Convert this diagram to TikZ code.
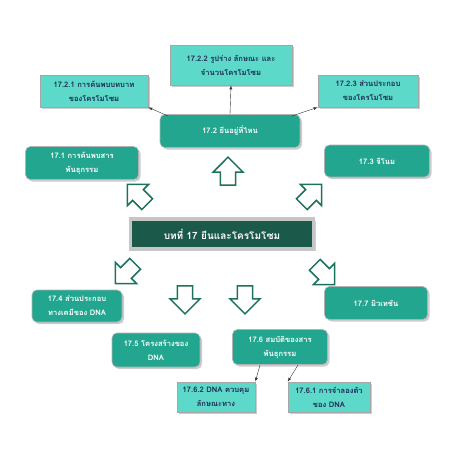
\documentclass[tikz,border=0pt]{standalone}
\usepackage{fontspec}
\newfontfamily\thaifont[Script=Thai]{Loma}
\usetikzlibrary{shapes.arrows,shadows}
\definecolor{lightbox}{HTML}{5CD9C8}
\definecolor{tealbox}{HTML}{22A68F}
\definecolor{mainbox}{HTML}{1B5A4B}
\definecolor{textdark}{HTML}{1E2A55}
\tikzset{
  subbox/.style={rectangle, fill=lightbox, draw=gray!70, line width=0.6pt,
    drop shadow={shadow xshift=2pt, shadow yshift=-2pt, fill=gray!80},
    text=textdark, align=center, font=\thaifont\bfseries\fontsize{7.6}{14}\selectfont,
    inner sep=1pt},
  secbox/.style={rectangle, rounded corners=5pt, fill=tealbox, draw=gray!60, line width=0.6pt,
    drop shadow={shadow xshift=2pt, shadow yshift=-2pt, fill=gray!80},
    text=white, align=center, font=\thaifont\bfseries\fontsize{7.6}{14}\selectfont,
    inner sep=1pt},
  blockarrow/.style={single arrow, draw=mainbox!70!tealbox, fill=white, line width=1.5pt,
    minimum height=28pt, minimum width=30pt, single arrow head extend=7pt, inner sep=6.5pt},
  link/.style={-latex, thin, black!80}
}
\begin{document}
\begin{tikzpicture}[x=1pt,y=-1pt]
\useasboundingbox (0,0) rectangle (452,452);

% chapter box
\node[rectangle, fill=mainbox, draw=gray!45, line width=3.5pt, minimum width=183, minimum height=30,
  text=white, font=\thaifont\bfseries\fontsize{10}{12}\selectfont,
  drop shadow={shadow xshift=2pt, shadow yshift=-2pt, fill=gray!70}]
  (chap) at (222,234) {บทที่ 17 ยีนและโครโมโซม};

% section boxes
\node[secbox, minimum width=113, minimum height=33] (s1) at (82,163) {17.1 การค้นพบสาร\\พันธุกรรม};
\node[secbox, minimum width=140, minimum height=33] (s2) at (230,131) {17.2 ยีนอยู่ที่ไหน};
\node[secbox, minimum width=105, minimum height=32] (s3) at (377,161) {17.3 จีโนม};
\node[secbox, minimum width=90, minimum height=32] (s4) at (77,306) {17.4 ส่วนประกอบ\\ทางเคมีของ DNA};
\node[secbox, minimum width=88, minimum height=34] (s5) at (156,350) {17.5 โครงสร้างของ\\DNA};
\node[secbox, minimum width=95, minimum height=35] (s6) at (280,347) {17.6 สมบัติของสาร\\พันธุกรรม};
\node[secbox, minimum width=103, minimum height=33] (s7) at (376,303) {17.7 มิวเทชัน};

% sub boxes
\node[subbox, minimum width=108, minimum height=32] (s2a) at (94,91) {17.2.1 การค้นพบบทบาท\\ของโครโมโซม};
\node[subbox, minimum width=122, minimum height=40] (s2b) at (231,65) {17.2.2 รูปร่าง ลักษณะ และ\\จำนวนโครโมโซม};
\node[subbox, minimum width=100, minimum height=32] (s2c) at (368,91) {17.2.3 ส่วนประกอบ\\ของโครโมโซม};
\node[subbox, minimum width=82, minimum height=30] (s6a) at (329,397) {17.6.1 การจำลองตัว\\ของ DNA};
\node[subbox, minimum width=78, minimum height=30] (s6b) at (216,397) {17.6.2 DNA ควบคุม\\ลักษณะทาง};

% links
\coordinate (p2a) at (168,116);
\coordinate (p2c) at (292,116);
\coordinate (p6b) at (260,365);
\coordinate (p6a) at (298,365);
\draw[link] (s2.north) -- (s2b.south);
\draw[link] (p2a) -- (s2a.south east);
\draw[link] (p2c) -- (s2c.south west);
\draw[link] (p6b) -- (s6b.north east);
\draw[link] (p6a) -- (s6a.north west);

% block arrows (y axis points down, so angles are mirrored)
\node[blockarrow, rotate=90] (aup) at (228,175) {};
\node[blockarrow, rotate=135] (aul) at (140,197) {};
\node[blockarrow, rotate=45] (aur) at (309,197) {};
\node[blockarrow, rotate=225] (adl) at (128,271) {};
\node[blockarrow, rotate=270] (ad1) at (185,296) {};
\node[blockarrow, rotate=270] (ad2) at (245,296) {};
\node[blockarrow, rotate=315] (adr) at (322,272) {};
\end{tikzpicture}
\end{document}
